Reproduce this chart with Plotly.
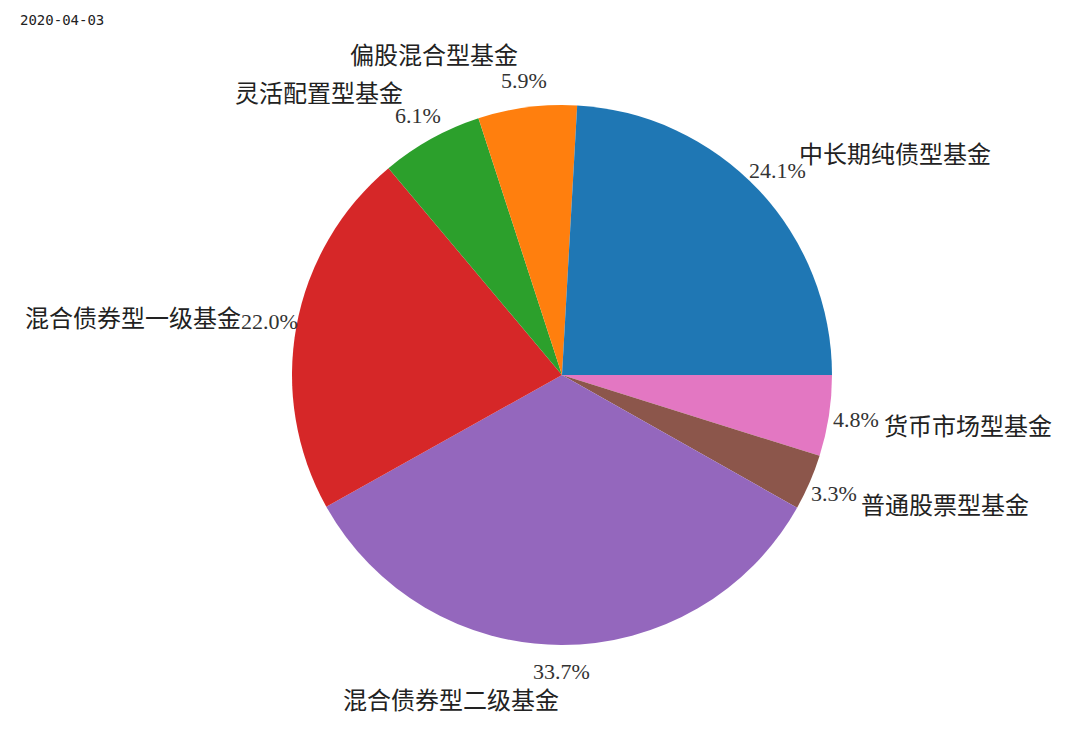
import math
import plotly.graph_objects as go

# fund types and their share (%)
labels = ['中长期纯债型基金', '偏股混合型基金', '灵活配置型基金', '混合债券型一级基金',
          '混合债券型二级基金', '普通股票型基金', '货币市场型基金']
shares = [24.1, 5.9, 6.1, 22.0, 33.7, 3.34, 4.84]
colors = ['#1f77b4', '#ff7f0e', '#2ca02c', '#d62728', '#9467bd', '#8c564b', '#e377c2']
date_text = '2020-04-03'

W, H = 1080, 730
OFF = 8                          # page body margin shifts the figure by 8px
cx, cy, R = 562 - OFF, H - (375 - OFF), 270   # pie centre / radius in px (y from bottom)

# matplotlib draws counterclockwise from 3 o'clock; plotly: clockwise with reversed order
fig = go.Figure(go.Pie(
    labels=labels[::-1],
    values=shares[::-1],
    marker=dict(colors=colors[::-1], line=dict(width=0)),
    sort=False,
    direction='clockwise',
    rotation=90,
    textinfo='none',
    hoverinfo='label+percent',
    showlegend=False,
    domain=dict(x=[(cx - R) / W, (cx + R) / W], y=[(cy - R) / H, (cy + R) / H]),
))

# matplotlib style labels: name at 1.2 r, pct at 1.1 r
total = sum(shares)
cum = 0
annotations = []
for lab, v in zip(labels, shares):
    mid = 2 * math.pi * (cum + v / 2) / total
    cum += v
    c, s = math.cos(mid), math.sin(mid)
    annotations.append(dict(
        x=(cx + 1.2 * R * c) / W, y=(cy + 1.2 * R * s) / H,
        xref='paper', yref='paper', text=lab, showarrow=False,
        xanchor='left' if c > 0 else 'right', yanchor='middle',
        font=dict(family='Noto Sans CJK SC', size=24, color='#222222'),
    ))
    annotations.append(dict(
        x=(cx + 1.1 * R * c) / W, y=(cy + 1.1 * R * s) / H,
        xref='paper', yref='paper', text='%.1f%%' % (v / total * 100), showarrow=False,
        xanchor='center', yanchor='middle',
        font=dict(family='Liberation Serif', size=22, color='#333333'),
    ))

annotations.append(dict(
    x=(18 - OFF) / W, y=(H - 20 + OFF) / H, xref='paper', yref='paper', text=date_text,
    showarrow=False, xanchor='left', yanchor='middle',
    font=dict(family='DejaVu Sans Mono', size=14, color='#222222'),
))

fig.update_layout(
    width=W, height=H,
    margin=dict(l=0, r=0, t=0, b=0),
    paper_bgcolor='white',
    plot_bgcolor='white',
    annotations=annotations,
)

fig.write_html('out.html')
